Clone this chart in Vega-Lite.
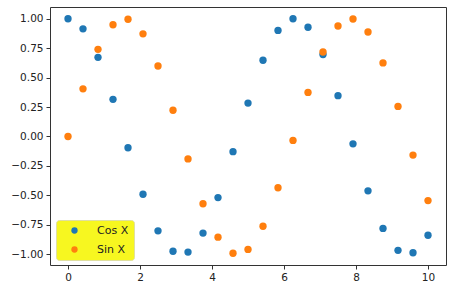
{
  "$schema": "https://vega.github.io/schema/vega-lite/v6.json",
  "autosize": {"type": "none"},
  "width": 396,
  "height": 258,
  "padding": {"left": 50, "top": 7, "right": 28, "bottom": 26},
  "background": "white",
  "config": {
    "view": {"stroke": "#333333", "strokeWidth": 1},
    "font": "DejaVu Sans"
  },
  "data": {
    "values": [
      {"x": 0.0, "s": "Cos X", "v": 1.0},
      {"x": 0.41667, "s": "Cos X", "v": 0.91444},
      {"x": 0.83333, "s": "Cos X", "v": 0.67241},
      {"x": 1.25, "s": "Cos X", "v": 0.31532},
      {"x": 1.66667, "s": "Cos X", "v": -0.09572},
      {"x": 2.08333, "s": "Cos X", "v": -0.4904},
      {"x": 2.5, "s": "Cos X", "v": -0.80114},
      {"x": 2.91667, "s": "Cos X", "v": -0.97481},
      {"x": 3.33333, "s": "Cos X", "v": -0.98167},
      {"x": 3.75, "s": "Cos X", "v": -0.82056},
      {"x": 4.16667, "s": "Cos X", "v": -0.5191},
      {"x": 4.58333, "s": "Cos X", "v": -0.1287},
      {"x": 5.0, "s": "Cos X", "v": 0.28366},
      {"x": 5.41667, "s": "Cos X", "v": 0.64749},
      {"x": 5.83333, "s": "Cos X", "v": 0.9005},
      {"x": 6.25, "s": "Cos X", "v": 0.99945},
      {"x": 6.66667, "s": "Cos X", "v": 0.92736},
      {"x": 7.08333, "s": "Cos X", "v": 0.6966},
      {"x": 7.5, "s": "Cos X", "v": 0.34664},
      {"x": 7.91667, "s": "Cos X", "v": -0.06264},
      {"x": 8.33333, "s": "Cos X", "v": -0.4612},
      {"x": 8.75, "s": "Cos X", "v": -0.78085},
      {"x": 9.16667, "s": "Cos X", "v": -0.96687},
      {"x": 9.58333, "s": "Cos X", "v": -0.98746},
      {"x": 10.0, "s": "Cos X", "v": -0.83907},
      {"x": 0.0, "s": "Sin X", "v": 0.0},
      {"x": 0.41667, "s": "Sin X", "v": 0.40472},
      {"x": 0.83333, "s": "Sin X", "v": 0.74018},
      {"x": 1.25, "s": "Sin X", "v": 0.94898},
      {"x": 1.66667, "s": "Sin X", "v": 0.99541},
      {"x": 2.08333, "s": "Sin X", "v": 0.8715},
      {"x": 2.5, "s": "Sin X", "v": 0.59847},
      {"x": 2.91667, "s": "Sin X", "v": 0.22303},
      {"x": 3.33333, "s": "Sin X", "v": -0.19057},
      {"x": 3.75, "s": "Sin X", "v": -0.57156},
      {"x": 4.16667, "s": "Sin X", "v": -0.8549},
      {"x": 4.58333, "s": "Sin X", "v": -0.99168},
      {"x": 5.0, "s": "Sin X", "v": -0.95892},
      {"x": 5.41667, "s": "Sin X", "v": -0.76209},
      {"x": 5.83333, "s": "Sin X", "v": -0.4350},
      {"x": 6.25, "s": "Sin X", "v": -0.03318},
      {"x": 6.66667, "s": "Sin X", "v": 0.37415},
      {"x": 7.08333, "s": "Sin X", "v": 0.71746},
      {"x": 7.5, "s": "Sin X", "v": 0.938},
      {"x": 7.91667, "s": "Sin X", "v": 0.99804},
      {"x": 8.33333, "s": "Sin X", "v": 0.88729},
      {"x": 8.75, "s": "Sin X", "v": 0.62473},
      {"x": 9.16667, "s": "Sin X", "v": 0.25525},
      {"x": 9.58333, "s": "Sin X", "v": -0.15789},
      {"x": 10.0, "s": "Sin X", "v": -0.54402}
    ]
  },
  "mark": {"type": "circle", "size": 54, "opacity": 1},
  "encoding": {
    "x": {
      "field": "x", "type": "quantitative",
      "scale": {"domain": [-0.5, 10.5], "nice": false, "zero": false},
      "axis": {"title": null, "grid": false, "values": [0, 2, 4, 6, 8, 10], "format": "d",
               "labelFontSize": 10.5, "labelColor": "#222222", "tickColor": "#333333", "tickSize": 4,
               "domain": false, "labelPadding": 3, "labelFlush": false}
    },
    "y": {
      "field": "v", "type": "quantitative",
      "scale": {"domain": [-1.0913, 1.0996], "nice": false, "zero": false},
      "axis": {"title": null, "grid": false, "values": [-1, -0.75, -0.5, -0.25, 0, 0.25, 0.5, 0.75, 1],
               "format": ".2f", "labelFontSize": 10.5, "labelColor": "#222222", "tickColor": "#333333", "tickSize": 4,
               "domain": false, "labelPadding": 3, "labelFlush": false}
    },
    "color": {
      "field": "s", "type": "nominal",
      "scale": {"domain": ["Cos X", "Sin X"], "range": ["#1f77b4", "#ff7f0e"]},
      "legend": {
        "title": null, "orient": "none", "legendX": 6, "legendY": 213,
        "fillColor": "#f7f720", "strokeColor": "#e0e0a0", "cornerRadius": 3,
        "padding": 5, "symbolType": "circle", "symbolSize": 40, "symbolOpacity": 1,
        "labelFontSize": 11, "labelColor": "#222222", "rowPadding": 7, "labelOffset": 17,
        "symbolOffset": 8
      }
    }
  }
}
